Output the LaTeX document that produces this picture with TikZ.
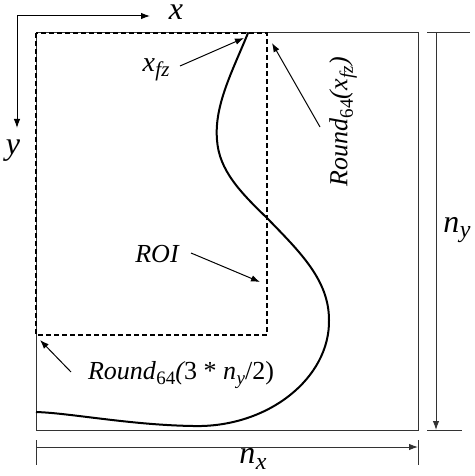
\documentclass[tikz,border=0pt]{standalone}
\usepackage{fontspec}
\setmainfont{Liberation Serif}
\usetikzlibrary{arrows.meta}
\tikzset{
  lbl/.style={inner sep=0pt, font=\fontsize{26}{30}\selectfont\itshape},
  biglbl/.style={inner sep=0pt, font=\fontsize{32}{36}\selectfont\itshape},
  arr/.style={line width=1pt, -{Latex[length=9pt,width=6.5pt]}},
  frame/.style={line width=1pt, draw=black!80},
  roi/.style={line width=1.4pt, dash pattern=on 5pt off 3pt},
  curve/.style={line width=2pt},
  dim/.style={line width=1pt, draw=black!80},
}
\newcommand{\sub}[2][19]{\raisebox{-5.5pt}{\fontsize{#1}{#1}\selectfont\kern0.5pt #2}}
\begin{document}
\begin{tikzpicture}[x=1pt,y=-1pt]
\useasboundingbox (0,0) rectangle (474,476);
% outer frame
\draw[frame] (36,33) rectangle (418,430);
% ROI
\draw[roi] (36,33) rectangle (267,335);
% curve
\draw[curve] (248,33) .. controls (233,70) and (214,105) .. (217,140)
  .. controls (219,170) and (240,192) .. (267,218)
  .. controls (300,252) and (329,280) .. (329,320)
  .. controls (330,378) and (268,428) .. (193,426)
  .. controls (130,425) and (70,413) .. (36,412);
% axes
\coordinate (o) at (17,16);
\coordinate (xe) at (150,16);
\coordinate (ye) at (17,128);
\draw[arr] (o) -- (xe);
\draw[arr] (o) -- (ye);
\node[biglbl, text height=14pt, text depth=0pt, anchor=base] (xl) at (176,20) {x};
\node[biglbl] (yl) at (13,151) {y};
% labels
\node[lbl,font=\fontsize{28}{32}\selectfont\itshape] (xfz) at (156,70) {x\sub[21]{fz}};
\coordinate (xfzs) at (180,66);
\coordinate (xfzt) at (244,38);
\draw[arr] (xfzs) -- (xfzt);
\node[lbl,rotate=90] (rxfz) at (343,122) {Round\sub{\upshape 64}(x\sub{fz})};
\coordinate (rxs) at (320,127);
\coordinate (rxt) at (272,43);
\draw[arr] (rxs) -- (rxt);
\node[lbl] (roil) at (157,254) {ROI};
\coordinate (roiS) at (191,253);
\coordinate (roit) at (260,282);
\draw[arr] (roiS) -- (roit);
\node[lbl] (rny) at (181,375) {Round\sub{\upshape 64}(\upshape 3 * \itshape n\sub{y}\upshape /2)};
\coordinate (rnys) at (71,372);
\coordinate (rnyt) at (40,340);
\draw[arr] (rnys) -- (rnyt);
% n_y dimension
\coordinate (nyt) at (436,33);
\coordinate (nyb) at (436,430);
\draw[dim] (427,33) -- (470,33);
\draw[dim] (427,430) -- (462,430);
\draw[dim,arr] (nyt) -- (nyb);
\node[biglbl] (nyl) at (457,230) {n\sub[24]{y}};
% n_x dimension
\coordinate (nxl) at (36,447);
\coordinate (nxr) at (418,447);
\draw[dim] (36,440) -- (36,465);
\draw[dim] (418,440) -- (418,465);
\draw[dim,arr] (nxl) -- (nxr);
\node[biglbl] (nxlab) at (253,459) {n\sub[24]{x}};
\end{tikzpicture}
\end{document}
